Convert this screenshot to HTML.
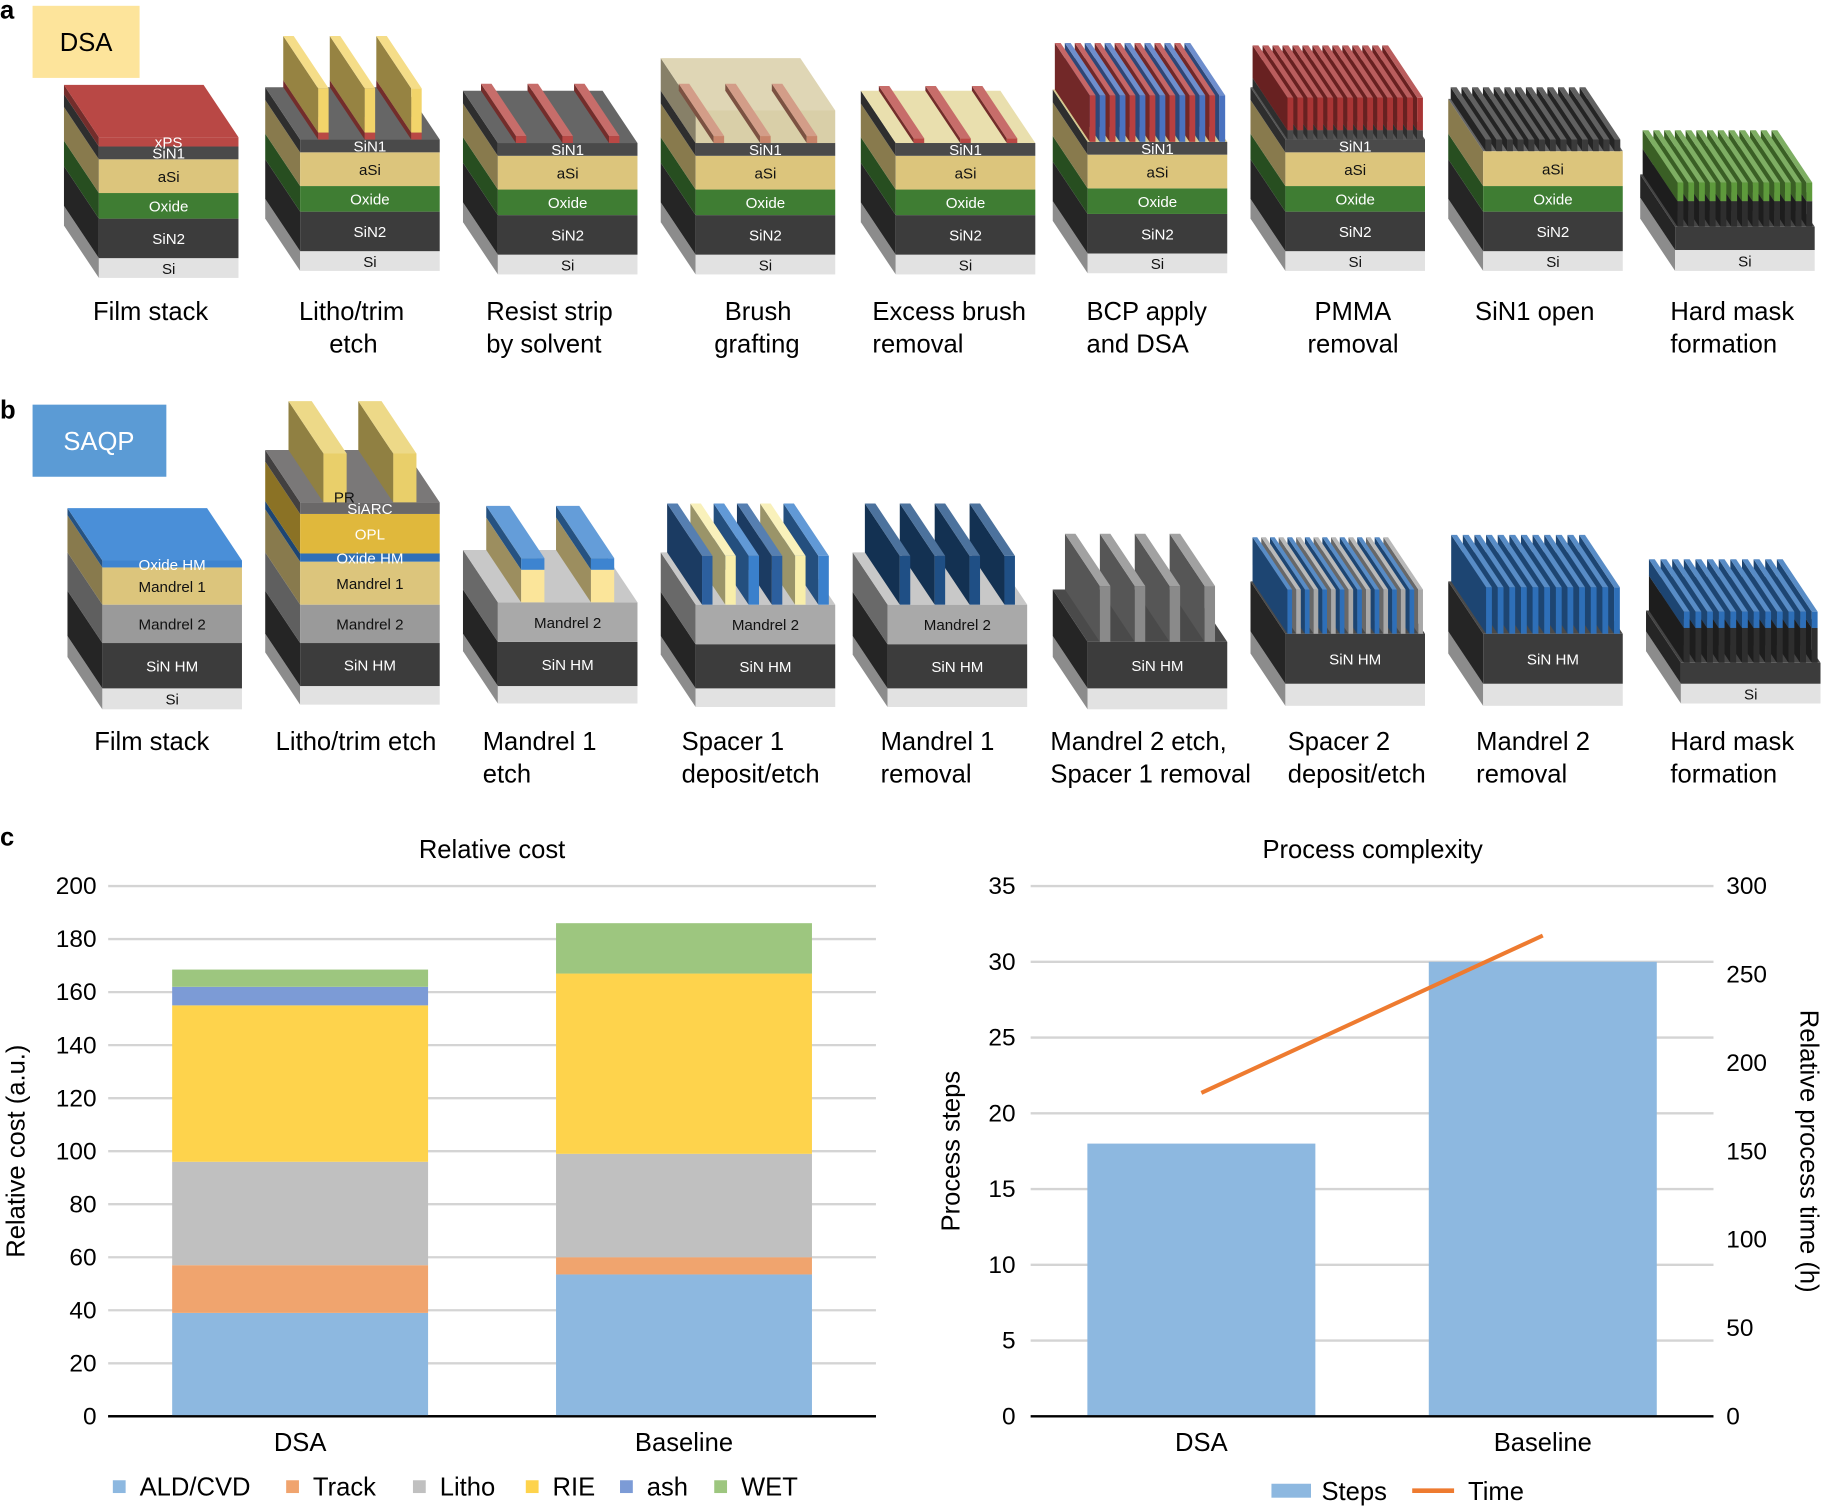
<!DOCTYPE html>
<html><head><meta charset="utf-8"><style>
html,body{margin:0;padding:0;background:#fff;}
svg{display:block;font-family:"Liberation Sans",sans-serif;}
</style></head><body>
<svg id="root" width="1824" height="1507" viewBox="0 0 1568 1296" preserveAspectRatio="none" xmlns="http://www.w3.org/2000/svg">
<rect width="1568" height="1296" fill="#fff"/>
<text x="0" y="16" font-size="22" font-weight="bold">a</text>
<rect x="28" y="5" width="92" height="62" fill="#fde49b"/>
<text x="74" y="44" font-size="22" text-anchor="middle">DSA</text>
<text x="0" y="360" font-size="22" font-weight="bold">b</text>
<rect x="28" y="348" width="115" height="62" fill="#5b9bd5"/>
<text x="85" y="387" font-size="22" text-anchor="middle" fill="#fff">SAQP</text>
<text x="0" y="727" font-size="22" font-weight="bold">c</text>
<g id="diagrams"></g>
<g id="labels" font-size="22"></g>
<g id="cost"></g>
<g id="complex"></g>
</svg>
<script>
// ---------- chart data ----------
const costCats = ['DSA', 'Baseline'];
const aldCvd = [39, 53.5];
const track = [18, 6.5];
const litho = [39, 39];
const rie = [59, 68];
const ash = [7, 0];
const wet = [6.5, 19];
const costSeriesNames = ['ALD/CVD', 'Track', 'Litho', 'RIE', 'ash', 'WET'];
const costTicks = [0, 20, 40, 60, 80, 100, 120, 140, 160, 180, 200];
const cxCats = ['DSA', 'Baseline'];
const steps = [18, 30];
const timeH = [183, 272];
const stepTicks = [0, 5, 10, 15, 20, 25, 30, 35];
const timeTicks = [0, 50, 100, 150, 200, 250, 300];

const NS = 'http://www.w3.org/2000/svg';
function mk(parent, tag, attrs, text) {
  const e = document.createElementNS(NS, tag);
  for (const k in attrs) e.setAttribute(k, attrs[k]);
  if (text !== undefined) e.textContent = text;
  parent.appendChild(e);
  return e;
}

// ---------- relative cost chart ----------
(function () {
  const g = document.getElementById('cost');
  const x0 = 93, x1 = 753, yb = 1218, yt = 762, vmax = 200;
  const y = v => yb - v * (yb - yt) / vmax;
  const band = (x1 - x0) / costCats.length;
  const xc = i => x0 + band * (i + 0.5);
  const bw = 220;
  const colors = ['#8db8e0', '#f0a46e', '#c0c0c0', '#fed34c', '#7c9bd6', '#9dc67f'];
  const series = [aldCvd, track, litho, rie, ash, wet];
  costTicks.forEach(t => {
    const l = mk(g, 'line', {x1: x0, x2: x1, y1: y(t), y2: y(t), stroke: t === 0 ? '#000' : '#d4d4d4', 'stroke-width': 2});
    
    
    const tx = mk(g, 'text', {x: 83, y: y(t) + 7, 'font-size': 21, 'text-anchor': 'end'}, String(t));
    
    
  });
  costCats.forEach((c, i) => {
    let acc = 0;
    series.forEach((s, k) => {
      const v = s[i];
      if (v > 0) {
        const r = mk(g, 'rect', {x: xc(i) - bw / 2, y: y(acc + v), width: bw, height: y(acc) - y(acc + v), fill: colors[k]});
        
        
      }
      acc += v;
    });
    const tx = mk(g, 'text', {x: xc(i), y: 1248, 'font-size': 22, 'text-anchor': 'middle'}, c);
    
    
  });
  mk(g, 'line', {x1: x0, x2: x1, y1: yb, y2: yb, stroke: '#000', 'stroke-width': 2});
  const tt = mk(g, 'text', {x: 423, y: 738, 'font-size': 22, 'text-anchor': 'middle'}, 'Relative cost');
  
  
  const yt2 = mk(g, 'text', {x: 0, y: 0, 'font-size': 22, 'text-anchor': 'middle', transform: 'translate(21,990) rotate(-90)'}, 'Relative cost (a.u.)');
  
  
  const lx = [97, 246, 355, 452, 533, 614];
  costSeriesNames.forEach((n, k) => {
    const s = mk(g, 'rect', {x: lx[k], y: 1273, width: 11, height: 11, fill: colors[k]});
    
    
    const t = mk(g, 'text', {x: lx[k] + 23, y: 1286, 'font-size': 22}, n);
    
    
  });
})();

// ---------- process complexity chart ----------
(function () {
  const g = document.getElementById('complex');
  const x0 = 886, x1 = 1473, yb = 1218, yt = 762;
  const yS = v => yb - v * (yb - yt) / 35;
  const yT = v => yb - v * (yb - yt) / 300;
  const band = (x1 - x0) / cxCats.length;
  const xc = i => x0 + band * (i + 0.5);
  const bw = 196;
  stepTicks.forEach(t => {
    const l = mk(g, 'line', {x1: x0, x2: x1, y1: yS(t), y2: yS(t), stroke: '#d4d4d4', 'stroke-width': 2});
    
    
    const tx = mk(g, 'text', {x: 873, y: yS(t) + 7, 'font-size': 21, 'text-anchor': 'end'}, String(t));
    
    
  });
  timeTicks.forEach(t => {
    const tx = mk(g, 'text', {x: 1484, y: yT(t) + 7, 'font-size': 21}, String(t));
    
    
  });
  cxCats.forEach((c, i) => {
    const r = mk(g, 'rect', {x: xc(i) - bw / 2, y: yS(steps[i]), width: bw, height: yb - yS(steps[i]), fill: '#8db8e0'});
    
    
    const tx = mk(g, 'text', {x: xc(i), y: 1248, 'font-size': 22, 'text-anchor': 'middle'}, c);
    
    
  });
  mk(g, 'line', {x1: x0, x2: x1, y1: yb, y2: yb, stroke: '#000', 'stroke-width': 2});
  const pts = timeH.map((v, i) => xc(i) + ',' + yT(v)).join(' ');
  const pl = mk(g, 'polyline', {points: pts, fill: 'none', stroke: '#ee7b30', 'stroke-width': 3.5});
  
  
  const tt = mk(g, 'text', {x: 1180, y: 738, 'font-size': 22, 'text-anchor': 'middle'}, 'Process complexity');
  
  
  const a1 = mk(g, 'text', {x: 0, y: 0, 'font-size': 22, 'text-anchor': 'middle', transform: 'translate(825,990) rotate(-90)'}, 'Process steps');
  
  
  const a2 = mk(g, 'text', {x: 0, y: 0, 'font-size': 22, 'text-anchor': 'middle', transform: 'translate(1548,990) rotate(90)'}, 'Relative process time (h)');
  
  
  const s = mk(g, 'rect', {x: 1093, y: 1276, width: 34, height: 12, fill: '#8db8e0'});
  
  
  const t1 = mk(g, 'text', {x: 1136, y: 1290, 'font-size': 22}, 'Steps');
  
  
  const l = mk(g, 'line', {x1: 1214, x2: 1250, y1: 1282, y2: 1282, stroke: '#ee7b30', 'stroke-width': 4});
  
  
  const t2 = mk(g, 'text', {x: 1262, y: 1290, 'font-size': 22}, 'Time');
  
  
})();

// ---------- process diagrams ----------
function shade(hex, f) {
  const n = parseInt(hex.slice(1), 16);
  let r = (n >> 16) & 255, g = (n >> 8) & 255, b = n & 255;
  const m = v => Math.max(0, Math.min(255, Math.round(f < 1 ? v * f : v + (255 - v) * (f - 1))));
  return 'rgb(' + m(r) + ',' + m(g) + ',' + m(b) + ')';
}
const DX = -30, DY = -45, W = 120;
function prism(g, x, y1, y2, w, c, top) {
  mk(g, 'polygon', {points: `${x},${y1} ${x},${y2} ${x + DX},${y2 + DY} ${x + DX},${y1 + DY}`, fill: shade(c, 0.62)});
  mk(g, 'rect', {x: x, y: y1, width: w, height: y2 - y1, fill: c});
  if (top) mk(g, 'polygon', {points: `${x},${y1} ${x + w},${y1} ${x + w + DX},${y1 + DY} ${x + DX},${y1 + DY}`, fill: top});
}
function block(spec) {
  const g = mk(document.getElementById('diagrams'), 'g', {});
  
  
  const L = spec.layers;
  // left side faces and front faces
  for (let i = L.length - 1; i >= 0; i--) {
    prism(g, spec.x, L[i][1], L[i][2], W, L[i][0], null);
  }
  const yt = L[0][1];
  mk(g, 'polygon', {points: `${spec.x},${yt} ${spec.x + W},${yt} ${spec.x + W + DX},${yt + DY} ${spec.x + DX},${yt + DY}`, fill: spec.top});
  if (spec.overlay) {
    const o = spec.overlay;
    prism(g, spec.x, yt - o.h, yt, W, o.c, shade(o.c, 1.15));
  }
  if (spec.fins) {
    const f = spec.fins;
    const gap = (W - f.n * f.w) / (f.n);
    for (let i = f.n - 1; i >= 0; i--) {
      const fx = spec.x + gap / 2 + i * (f.w + gap);
      let yb = yt;
      const segs = f.segs || [[f.c, f.h]];
      segs.forEach(sg => {
        const cc = Array.isArray(sg[0]) ? sg[0][i % sg[0].length] : sg[0];
        prism(g, fx, yb - sg[1], yb, f.w, cc, shade(cc, 1.2));
        yb -= sg[1];
      });
    }
  }
  L.forEach(l => {
    if (l[3]) {
      const t = mk(g, 'text', {x: spec.x + W / 2, y: (l[1] + l[2]) / 2 + 5, 'font-size': 13, 'text-anchor': 'middle', fill: l[4] || '#111'}, l[3]);
      
      
    }
  });
  (spec.extra || []).forEach(e => {
    const t = mk(g, 'text', {x: spec.x + W / 2 + (e[2] || 0), y: e[1], 'font-size': 13, 'text-anchor': 'middle', fill: e[3] || '#111'}, e[0]);
    
    
  });
}
const RED = '#b94845', SIN1 = '#4a4a4a', ASI = '#dcc57c', OX = '#3f7d33', SIN2 = '#3c3c3c', SI = '#e2e2e2';
function stackA(top) {
  return [[SIN1, top, top + 11, 'SiN1', '#fff'], [ASI, top + 11, top + 40, 'aSi'], [OX, top + 40, top + 62, 'Oxide', '#fff'], [SIN2, top + 62, top + 96, 'SiN2', '#fff'], [SI, top + 96, top + 113, 'Si']];
}
block({name: 'dsa-film-stack', x: 85, top: RED, layers: [[RED, 118, 126, 'xPS', '#fff']].concat(stackA(126))});
block({name: 'dsa-litho-trim', x: 258, top: '#666', layers: stackA(120), fins: {n: 3, w: 9, segs: [[RED, 6], ['#f2d46a', 38]]}});
block({name: 'dsa-resist-strip', x: 428, top: '#666', layers: stackA(123), fins: {n: 3, w: 9, c: RED, h: 6}});
block({name: 'dsa-brush-grafting', x: 598, top: '#777', layers: stackA(123), fins: {n: 3, w: 9, c: '#c8846a', h: 6}, overlay: {c: '#d9cfa8', h: 28}});
block({name: 'dsa-excess-brush-removal', x: 770, top: '#e9dfae', layers: stackA(123), fins: {n: 3, w: 9, c: RED, h: 4}});
block({name: 'dsa-bcp-apply', x: 935, top: '#d6c98f', layers: stackA(122), fins: {n: 14, w: 5, segs: [[['#b84040', '#4a72c0'], 40]]}});
block({name: 'dsa-pmma-removal', x: 1105, top: '#555', layers: stackA(120), fins: {n: 14, w: 5, segs: [[SIN1, 8], ['#a83535', 28]]}});
block({name: 'dsa-sin1-open', x: 1275, top: '#666', layers: [[ASI, 130, 160, 'aSi'], [OX, 160, 182, 'Oxide', '#fff'], [SIN2, 182, 216, 'SiN2', '#fff'], [SI, 216, 233, 'Si']], fins: {n: 13, w: 5, c: '#3a3a3a', h: 10}});
block({name: 'dsa-hard-mask', x: 1440, top: '#444', layers: [[SIN2, 195, 215], [SI, 215, 233, 'Si']], fins: {n: 13, w: 5, segs: [['#2e2e2e', 22], ['#5e9a3c', 16]]}});

const BLUE = '#3d84d0', M1 = '#dcc57c', M2 = '#9a9a9a', M2L = '#a9a9a9', SHM = '#3c3c3c';
block({name: 'saqp-film-stack', x: 88, top: '#4a8fd8', layers: [[BLUE, 482, 488, 'Oxide HM', '#fff'], [M1, 488, 520, 'Mandrel 1'], [M2, 520, 553, 'Mandrel 2'], [SHM, 553, 592, 'SiN HM', '#fff'], [SI, 592, 610, 'Si']]});
block({name: 'saqp-litho-trim', x: 258, top: '#7a7878', layers: [['#6a6868', 432, 442, 'SiARC', '#fff'], ['#e0b83c', 442, 476, 'OPL', '#fff'], ['#2f6fb8', 476, 483, 'Oxide HM', '#fff'], [M1, 483, 520, 'Mandrel 1'], [M2, 520, 553, 'Mandrel 2'], [SHM, 553, 590, 'SiN HM', '#fff'], [SI, 590, 606]], fins: {n: 2, w: 20, c: '#e9cf6a', h: 42}, extra: [['PR', 432, -22]]});
block({name: 'saqp-mandrel1-etch', x: 428, top: '#c8c8c8', layers: [[M2L, 518, 552, 'Mandrel 2'], [SHM, 552, 590, 'SiN HM', '#fff'], [SI, 590, 605]], fins: {n: 2, w: 20, segs: [['#fbe59a', 28], [BLUE, 10]]}});
block({name: 'saqp-spacer1', x: 598, top: '#c8c8c8', layers: [[M2L, 520, 554, 'Mandrel 2'], [SHM, 554, 592, 'SiN HM', '#fff'], [SI, 592, 608]], fins: {n: 6, w: 9, segs: [[['#2c5f9e', '#f8eeaa', '#3a80cc'], 42]]}});
block({name: 'saqp-mandrel1-removal', x: 763, top: '#c8c8c8', layers: [[M2L, 520, 554, 'Mandrel 2'], [SHM, 554, 592, 'SiN HM', '#fff'], [SI, 592, 608]], fins: {n: 4, w: 9, c: '#1f4f85', h: 42}});
block({name: 'saqp-mandrel2-etch', x: 935, top: '#4a4a4a', layers: [[SHM, 552, 592, 'SiN HM', '#fff'], [SI, 592, 610]], fins: {n: 4, w: 9, c: '#8a8a8a', h: 48}});
block({name: 'saqp-spacer2', x: 1105, top: '#4a4a4a', layers: [[SHM, 545, 588, 'SiN HM', '#fff'], [SI, 588, 607]], fins: {n: 16, w: 4, segs: [[['#2e6fb8', '#a8a8a8'], 38]]}});
block({name: 'saqp-mandrel2-removal', x: 1275, top: '#4a4a4a', layers: [[SHM, 545, 588, 'SiN HM', '#fff'], [SI, 588, 607]], fins: {n: 12, w: 5, c: '#2e6fb8', h: 40}});
block({name: 'saqp-hard-mask', x: 1445, top: '#444', layers: [[SHM, 570, 588], [SI, 588, 605, 'Si']], fins: {n: 12, w: 5, segs: [['#2e2e2e', 30], ['#2e6fb8', 14]]}});

// step captions
const captions = [
  [80, 275, 'Film stack'], [257, 275, 'Litho/trim'], [283, 303, 'etch'],
  [418, 275, 'Resist strip'], [418, 303, 'by solvent'], [623, 275, 'Brush'], [614, 303, 'grafting'],
  [750, 275, 'Excess brush'], [750, 303, 'removal'], [934, 275, 'BCP apply'], [934, 303, 'and DSA'],
  [1130, 275, 'PMMA'], [1124, 303, 'removal'], [1268, 275, 'SiN1 open'], [1436, 275, 'Hard mask'], [1436, 303, 'formation'],
  [81, 645, 'Film stack'], [237, 645, 'Litho/trim etch'], [415, 645, 'Mandrel 1'], [415, 673, 'etch'],
  [586, 645, 'Spacer 1'], [586, 673, 'deposit/etch'], [757, 645, 'Mandrel 1'], [757, 673, 'removal'],
  [903, 645, 'Mandrel 2 etch,'], [903, 673, 'Spacer 1 removal'], [1107, 645, 'Spacer 2'], [1107, 673, 'deposit/etch'],
  [1269, 645, 'Mandrel 2'], [1269, 673, 'removal'], [1436, 645, 'Hard mask'], [1436, 673, 'formation']
];
const lg = document.getElementById('labels');
captions.forEach(c => {
  const t = mk(lg, 'text', {x: c[0], y: c[1]}, c[2]);
  
  
});
</script>
</body></html>
